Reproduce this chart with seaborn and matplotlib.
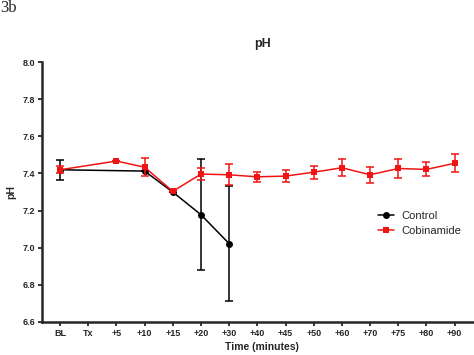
import numpy as np
import pandas as pd
import seaborn as sns
import matplotlib.pyplot as plt

times = ["BL", "Tx", "+5", "+10", "+15", "+20", "+30", "+40", "+45",
         "+50", "+60", "+70", "+75", "+80", "+90"]

control_times = ["BL", "+10", "+15", "+20", "+30"]
control_ph = [7.42, 7.413, 7.30, 7.178, 7.022]
control_err = [0.055, 0.0, 0.0, 0.298, 0.31]

cobin_times = ["BL", "+5", "+10", "+15", "+20", "+30", "+40", "+45",
               "+50", "+60", "+70", "+75", "+80", "+90"]
cobin_ph = [7.42, 7.467, 7.434, 7.304, 7.397, 7.393, 7.382, 7.386,
            7.407, 7.431, 7.393, 7.427, 7.422, 7.455]
cobin_err = [0.02, 0.0, 0.05, 0.0, 0.03, 0.057, 0.027, 0.032,
             0.034, 0.045, 0.044, 0.052, 0.038, 0.049]

sns.set_style("ticks")
plt.rcParams['font.family'] = ['Liberation Sans', 'DejaVu Sans']

ctrl = pd.DataFrame({'time': control_times, 'ph': control_ph, 'err': control_err})
ctrl['x'] = [times.index(t) for t in ctrl['time']]
cob = pd.DataFrame({'time': cobin_times, 'ph': cobin_ph, 'err': cobin_err})
cob['x'] = [times.index(t) for t in cob['time']]

red = '#f01414'

fig = plt.figure(figsize=(4.74, 3.55), dpi=100)
ax = fig.add_axes([0.0886, 0.093, 0.93, 0.732])

ax.errorbar(ctrl['x'], ctrl['ph'], yerr=ctrl['err'], fmt='none', ecolor='black',
            elinewidth=1.1, capsize=3, capthick=1.1, zorder=2)
sns.lineplot(data=ctrl, x='x', y='ph', color='black', marker='o', markersize=5,
             markeredgewidth=0, linewidth=1.1, label='Control', ax=ax, zorder=3)
ax.errorbar(cob['x'], cob['ph'], yerr=cob['err'], fmt='none', ecolor=red,
            elinewidth=1.1, capsize=3, capthick=1.1, zorder=4)
sns.lineplot(data=cob, x='x', y='ph', color=red, marker='s', markersize=5,
             markeredgewidth=0, linewidth=1.1, label='Cobinamide', ax=ax, zorder=5)

ax.set_xlim(-0.64, 15.0)
ax.set_ylim(6.6, 8.0)
ax.set_xticks(range(len(times)))
ax.set_xticklabels(times)
ax.set_yticks(np.arange(6.6, 8.01, 0.2))
ax.set_yticklabels([f"{v:.1f}" for v in np.arange(6.6, 8.01, 0.2)])
for lbl in ax.get_xticklabels() + ax.get_yticklabels():
    lbl.set_fontweight('bold')
ax.tick_params(labelsize=6.5, width=1.3, length=3, pad=2)

sns.despine(ax=ax)
ax.spines['left'].set_linewidth(1.8)
ax.spines['bottom'].set_linewidth(1.8)

ax.set_title('pH', fontsize=9, fontweight='bold', pad=11)
ax.set_xlabel('Time (minutes)', fontsize=7.5, fontweight='bold', labelpad=3)
ax.set_ylabel('pH', fontsize=7.5, fontweight='bold', labelpad=4)

ax.legend(loc='center left', bbox_to_anchor=(0.74, 0.38), frameon=False,
          fontsize=8, handlelength=1.4, handletextpad=0.7, labelspacing=0.45)

fig.text(0.0, 1.0, '3b', va='top', ha='left', fontsize=12,
         family='Liberation Serif')

plt.savefig('out.png', dpi=100)
